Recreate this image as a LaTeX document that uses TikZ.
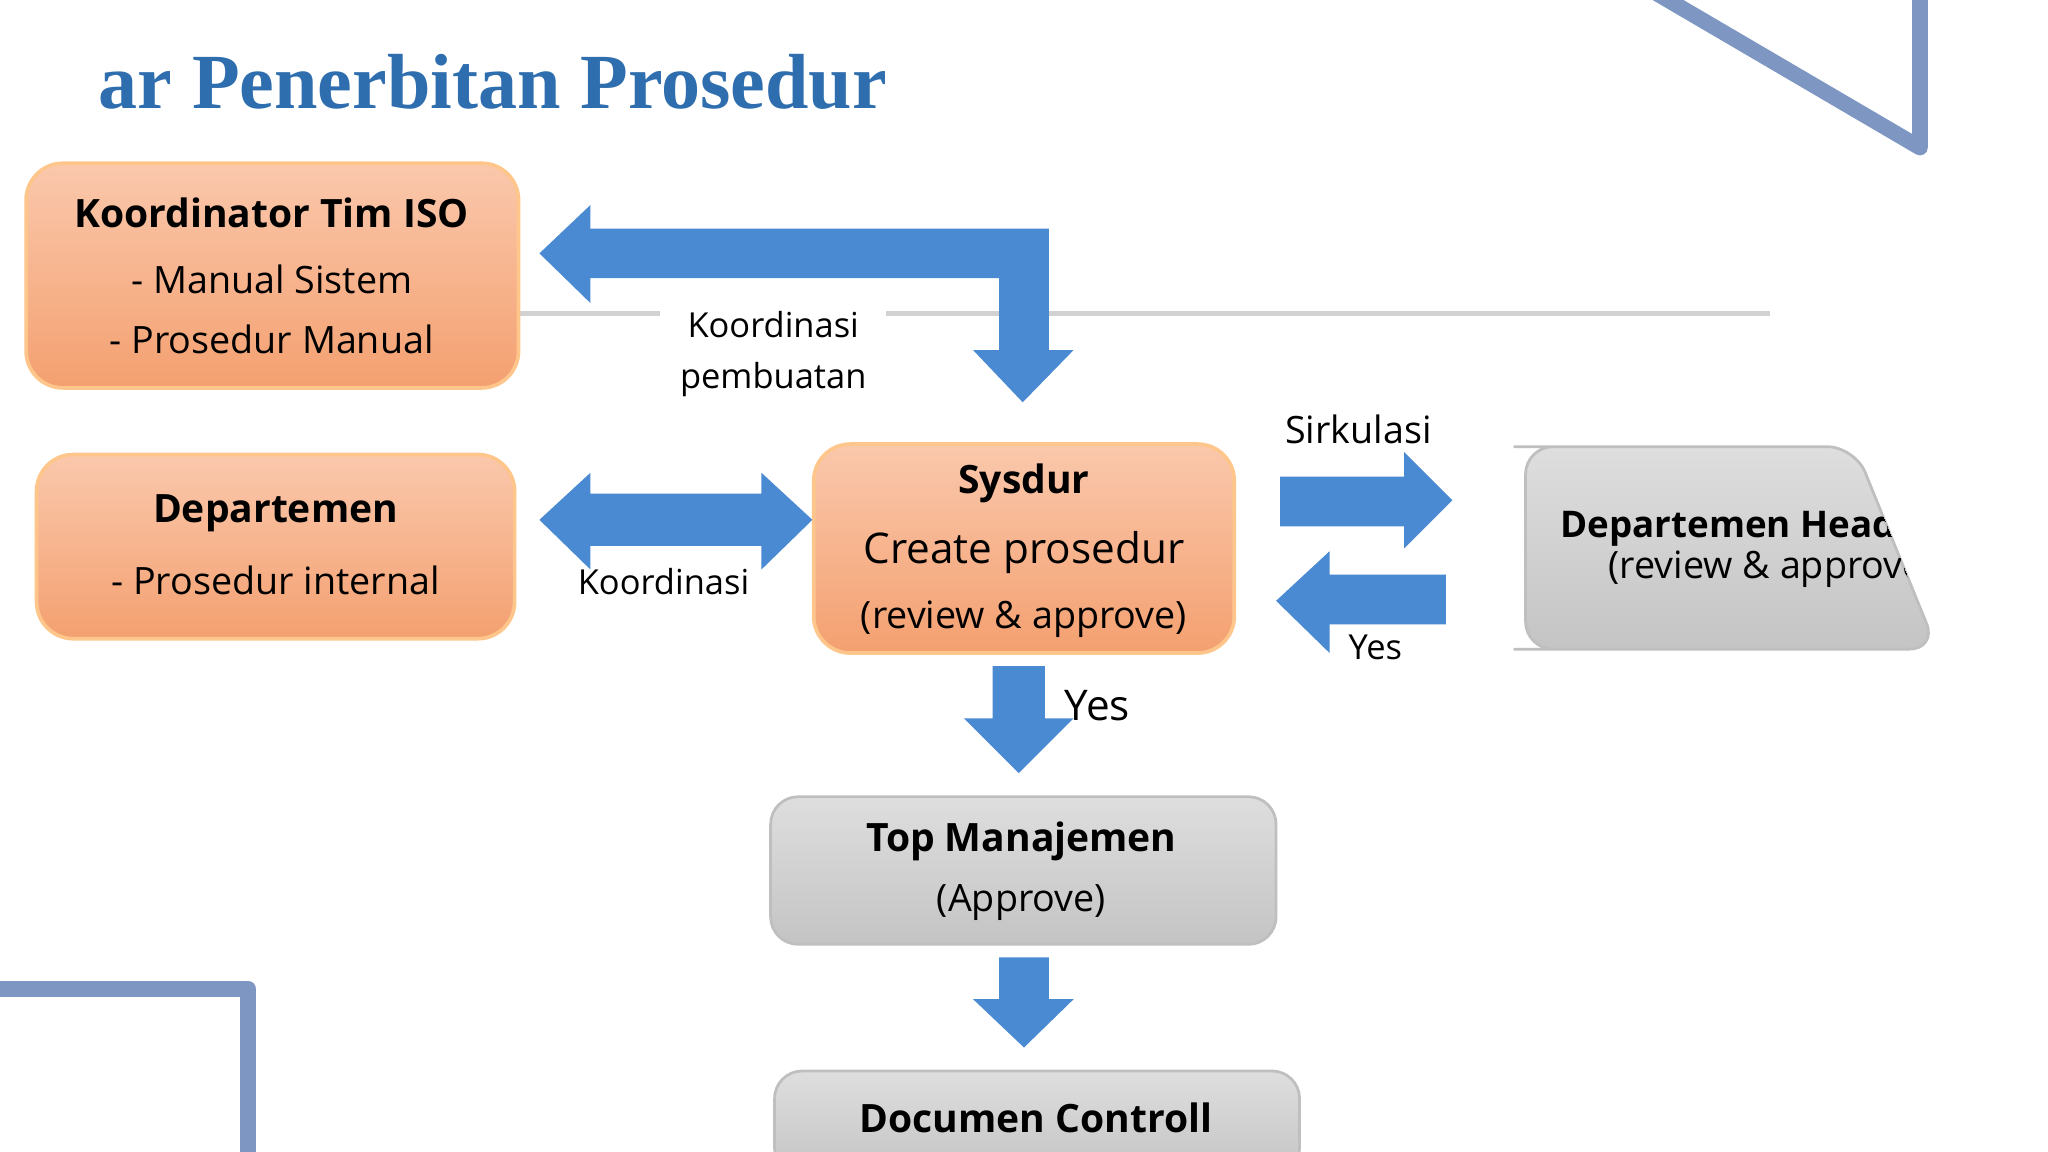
\documentclass[tikz,border=0pt]{standalone}
\usepackage{fontspec}
\setmainfont{Open Sans}
\newfontfamily\titlefont{Liberation Serif}
\usetikzlibrary{shapes.geometric}
\definecolor{ablue}{HTML}{4A8AD2}
\definecolor{frame}{HTML}{7D97C2}
\definecolor{ttl}{HTML}{2F6EAE}
\tikzset{
 obox/.style={rounded corners=8pt,top color=orange!20!white!70!orange!70,bottom color=orange!60!white,draw=orange!45,line width=0.8pt, top color={rgb,255:red,250;green,200;blue,172}, bottom color={rgb,255:red,244;green,160;blue,112}},
 gbox/.style={rounded corners=6pt,top color={rgb,255:red,222;green,222;blue,222},bottom color={rgb,255:red,196;green,196;blue,196},draw=gray!50,line width=0.6pt},
 barrow/.style={fill=ablue,draw=none},
 lbl/.style={font=\fontsize{7.5}{9}\selectfont,inner sep=0pt},
 hd/.style={font=\fontsize{8.5}{10}\selectfont\bfseries,inner sep=0pt},
 tx/.style={font=\fontsize{8.2}{10}\selectfont,inner sep=0pt}
}
\begin{document}
\begin{tikzpicture}[x=0.01cm,y=-0.01cm]
\useasboundingbox (0,0) rectangle (1568,882);
\fill[white] (0,0) rectangle (1568,882);
% frames
\draw[frame,line width=3.4pt,line join=round] (1260,-10) -- (1470,113) -- (1470,-10);
\draw[frame,line width=3.4pt,line join=round] (0,757) -- (190,757) -- (190,890);
% title
\node[anchor=west,inner sep=0pt,text=ttl,font=\titlefont\fontsize{17}{20}\selectfont\bfseries] (title) at (75,63) {ar Penerbitan Prosedur};
% grey line
\draw[gray!35,line width=1pt] (398,240) -- (505,240);
\draw[gray!35,line width=1pt] (678,240) -- (1355,240);
% boxes
\draw[obox] (20,125) rectangle (397,297);
\node[hd] (k1) at (208,163) {Koordinator Tim ISO};
\node[tx] (k2) at (208,214) {- Manual Sistem};
\node[tx] (k3) at (208,260) {- Prosedur Manual};
\draw[obox] (28,348) rectangle (394,489);
\node[hd] (d1) at (211,393) {Departemen};
\node[tx] (d2) at (211,444) {- Prosedur internal};
\draw[obox] (623,340) rectangle (945,500);
\node[hd] (s1) at (784,370) {Sysdur};
\node[tx,font=\fontsize{9.2}{11}\selectfont] (s2) at (784,423) {Create prosedur};
\node[tx] (s3) at (784,474) {(review \& approve)};
\fill[gbox] (1180,342) -- (1420,342) -- (1483,497) -- (1180,497) [rounded corners=6pt] -- (1168,497) -- (1168,342) -- cycle;
\begin{scope}
\clip (1168,342) -- (1420,342) -- (1483,497) -- (1168,497) -- cycle;
\node[hd,anchor=west,font=\fontsize{8}{10}\selectfont\bfseries] (h1) at (1194,404) {Departemen Head terkait};
\node[tx,anchor=west] (h2) at (1231,436) {(review \& approve)};
\end{scope}
\draw[gbox] (590,610) rectangle (977,723);
\node[hd] (t1) at (782,644) {Top Manajemen};
\node[tx] (t2) at (782,691) {(Approve)};
\draw[gbox] (593,820) rectangle (995,900);
\node[hd] (dc) at (793,856) {Documen Controll};
% arrows
\fill[barrow] (413,194) -- (452,157) -- (452,175) -- (803,175) -- (803,268) -- (822,268) -- (783,308) -- (745,268) -- (765,268) -- (765,213) -- (452,213) -- (452,232) -- cycle;
\fill[barrow] (413,398) -- (452,362) -- (452,378) -- (583,378) -- (583,362) -- (622,398) -- (583,436) -- (583,418) -- (452,418) -- (452,436) -- cycle;
\fill[barrow] (980,365) -- (1075,365) -- (1075,346) -- (1112,383) -- (1075,420) -- (1075,403) -- (980,403) -- cycle;
\fill[barrow] (1107,440) -- (1018,440) -- (1018,422) -- (977,460) -- (1018,500) -- (1018,478) -- (1107,478) -- cycle;
\fill[barrow] (760,510) -- (800,510) -- (800,550) -- (822,550) -- (780,592) -- (738,550) -- (760,550) -- cycle;
\fill[barrow] (765,733) -- (803,733) -- (803,765) -- (822,765) -- (784,802) -- (745,765) -- (765,765) -- cycle;
% labels
\node[lbl,align=center] (lk) at (592,271) {Koordinasi\\[2pt]pembuatan};
\node[lbl] (lk2) at (508,445) {Koordinasi};
\node[tx] (ls) at (1040,329) {Sirkulasi};
\node[lbl] (ly) at (1053,496) {Yes};
\node[tx,font=\fontsize{9.2}{11}\selectfont] (ly2) at (840,540) {Yes};
\end{tikzpicture}
\end{document}
